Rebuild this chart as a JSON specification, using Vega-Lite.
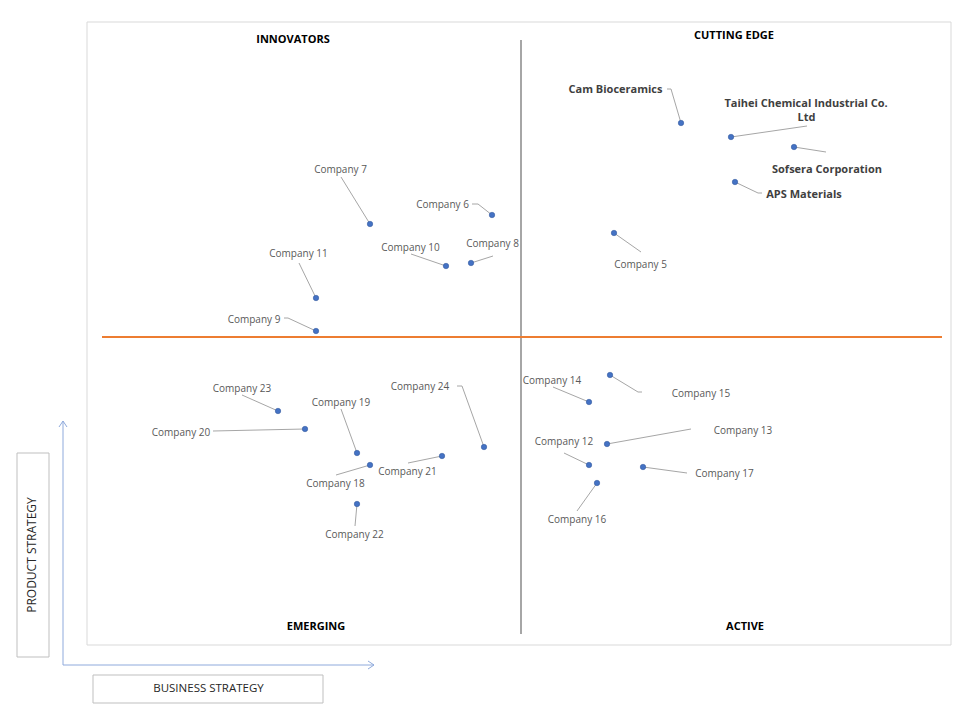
{
  "$schema": "https://vega.github.io/schema/vega-lite/v6.json",
  "width": 960,
  "height": 720,
  "autosize": {"type": "fit", "contains": "padding"},
  "padding": 0,
  "background": "white",
  "config": {"view": {"stroke": null}, "text": {"font": "Open Sans"}},
  "datasets": {
    "points": [
      {"company": "Cam Bioceramics", "business": 68.1, "product": 59.7},
      {"company": "Taihei Chemical Industrial Co. Ltd", "business": 73.1, "product": 58.3},
      {"company": "Sofsera Corporation", "business": 79.4, "product": 57.3},
      {"company": "APS Materials", "business": 73.5, "product": 53.8},
      {"company": "Company 5", "business": 61.4, "product": 48.7},
      {"company": "Company 6", "business": 49.2, "product": 50.5},
      {"company": "Company 7", "business": 37.0, "product": 49.6},
      {"company": "Company 8", "business": 47.1, "product": 45.7},
      {"company": "Company 9", "business": 31.6, "product": 38.9},
      {"company": "Company 10", "business": 44.6, "product": 45.4},
      {"company": "Company 11", "business": 31.6, "product": 42.2},
      {"company": "Company 12", "business": 58.9, "product": 25.5},
      {"company": "Company 13", "business": 60.7, "product": 27.6},
      {"company": "Company 14", "business": 58.9, "product": 31.8},
      {"company": "Company 15", "business": 61.0, "product": 34.5},
      {"company": "Company 16", "business": 59.7, "product": 23.7},
      {"company": "Company 17", "business": 64.3, "product": 25.3},
      {"company": "Company 18", "business": 37.0, "product": 25.5},
      {"company": "Company 19", "business": 35.7, "product": 26.7},
      {"company": "Company 20", "business": 30.5, "product": 29.1},
      {"company": "Company 21", "business": 44.2, "product": 26.4},
      {"company": "Company 22", "business": 35.7, "product": 21.6},
      {"company": "Company 23", "business": 27.8, "product": 30.9},
      {"company": "Company 24", "business": 48.4, "product": 27.3}
    ],
    "leaders": [
      {"x": 68.1, "y": 59.7, "x2": 67.1, "y2": 63.1},
      {"x": 67.1, "y": 63.1, "x2": 66.7, "y2": 63.1},
      {"x": 73.1, "y": 58.3, "x2": 80.7, "y2": 59.4},
      {"x": 79.4, "y": 57.3, "x2": 82.6, "y2": 56.8},
      {"x": 73.5, "y": 53.8, "x2": 75.8, "y2": 52.7},
      {"x": 75.8, "y": 52.7, "x2": 76.2, "y2": 52.7},
      {"x": 61.4, "y": 48.7, "x2": 64.1, "y2": 46.8},
      {"x": 49.2, "y": 50.5, "x2": 47.8, "y2": 51.6},
      {"x": 47.8, "y": 51.6, "x2": 47.2, "y2": 51.6},
      {"x": 37.0, "y": 49.6, "x2": 34.1, "y2": 54.3},
      {"x": 47.1, "y": 45.7, "x2": 49.3, "y2": 46.4},
      {"x": 31.6, "y": 38.9, "x2": 28.8, "y2": 40.2},
      {"x": 28.8, "y": 40.2, "x2": 28.4, "y2": 40.2},
      {"x": 44.6, "y": 45.4, "x2": 41.1, "y2": 46.6},
      {"x": 31.6, "y": 42.2, "x2": 29.9, "y2": 45.7},
      {"x": 58.9, "y": 25.5, "x2": 56.4, "y2": 26.7},
      {"x": 60.7, "y": 27.6, "x2": 69.1, "y2": 29.1},
      {"x": 58.9, "y": 31.8, "x2": 55.3, "y2": 33.3},
      {"x": 61.0, "y": 34.5, "x2": 63.8, "y2": 32.8},
      {"x": 63.8, "y": 32.8, "x2": 64.2, "y2": 32.8},
      {"x": 59.7, "y": 23.7, "x2": 57.7, "y2": 20.9},
      {"x": 64.3, "y": 25.3, "x2": 68.7, "y2": 24.7},
      {"x": 37.0, "y": 25.5, "x2": 33.6, "y2": 24.5},
      {"x": 35.7, "y": 26.7, "x2": 34.1, "y2": 31.1},
      {"x": 30.5, "y": 29.1, "x2": 21.3, "y2": 28.9},
      {"x": 44.2, "y": 26.4, "x2": 40.8, "y2": 25.7},
      {"x": 35.7, "y": 21.6, "x2": 35.5, "y2": 19.4},
      {"x": 27.8, "y": 30.9, "x2": 24.2, "y2": 32.5},
      {"x": 48.4, "y": 27.3, "x2": 46.2, "y2": 33.4},
      {"x": 46.2, "y": 33.4, "x2": 45.7, "y2": 33.4}
    ],
    "labels": [
      {"text": "Cam Bioceramics", "x": 61.55, "y": 63.1, "kind": "named"},
      {"text": "Taihei Chemical Industrial Co.", "x": 80.6, "y": 61.7, "kind": "named"},
      {"text": "Ltd", "x": 80.65, "y": 60.3, "kind": "named"},
      {"text": "Sofsera Corporation", "x": 82.7, "y": 55.1, "kind": "named"},
      {"text": "APS Materials", "x": 80.4, "y": 52.6, "kind": "named"},
      {"text": "Company 5", "x": 64.05, "y": 45.6, "kind": "company"},
      {"text": "Company 6", "x": 44.25, "y": 51.6, "kind": "company"},
      {"text": "Company 7", "x": 34.05, "y": 55.1, "kind": "company"},
      {"text": "Company 8", "x": 49.25, "y": 47.7, "kind": "company"},
      {"text": "Company 9", "x": 25.4, "y": 40.1, "kind": "company"},
      {"text": "Company 10", "x": 41.05, "y": 47.3, "kind": "company"},
      {"text": "Company 11", "x": 29.85, "y": 46.7, "kind": "company"},
      {"text": "Company 12", "x": 56.4, "y": 27.9, "kind": "company"},
      {"text": "Company 13", "x": 74.3, "y": 29.0, "kind": "company"},
      {"text": "Company 14", "x": 55.2, "y": 34.0, "kind": "company"},
      {"text": "Company 15", "x": 70.1, "y": 32.7, "kind": "company"},
      {"text": "Company 16", "x": 57.7, "y": 20.1, "kind": "company"},
      {"text": "Company 17", "x": 72.45, "y": 24.7, "kind": "company"},
      {"text": "Company 18", "x": 33.55, "y": 23.7, "kind": "company"},
      {"text": "Company 19", "x": 34.1, "y": 31.8, "kind": "company"},
      {"text": "Company 20", "x": 18.1, "y": 28.8, "kind": "company"},
      {"text": "Company 21", "x": 40.75, "y": 24.9, "kind": "company"},
      {"text": "Company 22", "x": 35.45, "y": 18.6, "kind": "company"},
      {"text": "Company 23", "x": 24.2, "y": 33.2, "kind": "company"},
      {"text": "Company 24", "x": 42.0, "y": 33.4, "kind": "company"},
      {"text": "INNOVATORS", "x": 29.3, "y": 68.1, "kind": "quadrant"},
      {"text": "CUTTING EDGE", "x": 73.4, "y": 68.5, "kind": "quadrant"},
      {"text": "EMERGING", "x": 31.6, "y": 9.4, "kind": "quadrant"},
      {"text": "ACTIVE", "x": 74.5, "y": 9.4, "kind": "quadrant"},
      {"text": "BUSINESS STRATEGY", "x": 20.85, "y": 3.2, "kind": "axis"},
      {"text": "PRODUCT STRATEGY", "x": 3.2, "y": 16.5, "kind": "axisv"}
    ],
    "boxes": [
      {"name": "frame", "x": 8.7, "x2": 95.1, "y": 69.8, "y2": 7.5},
      {"name": "product", "x": 1.7, "x2": 4.9, "y": 26.7, "y2": 6.3},
      {"name": "business", "x": 9.3, "x2": 32.3, "y": 4.5, "y2": 1.7}
    ],
    "lines": [
      {"kind": "vquad", "x": 52.1, "y": 68.0, "x2": 52.1, "y2": 8.6},
      {"kind": "hquad", "x": 10.2, "y": 38.3, "x2": 94.2, "y2": 38.3},
      {"kind": "arrow", "x": 6.3, "y": 5.5, "x2": 6.3, "y2": 29.9},
      {"kind": "arrow", "x": 6.3, "y": 5.5, "x2": 37.4, "y2": 5.5},
      {"kind": "arrow", "x": 5.9, "y": 29.3, "x2": 6.3, "y2": 29.9},
      {"kind": "arrow", "x": 6.7, "y": 29.3, "x2": 6.3, "y2": 29.9},
      {"kind": "arrow", "x": 36.8, "y": 5.9, "x2": 37.4, "y2": 5.5},
      {"kind": "arrow", "x": 36.8, "y": 5.1, "x2": 37.4, "y2": 5.5}
    ]
  },
  "resolve": {"scale": {"x": "shared", "y": "shared"}},
  "layer": [
    {
      "data": {"name": "boxes"},
      "transform": [{"filter": "datum.name === 'frame'"}],
      "mark": {"type": "rect", "fill": null, "stroke": "#d9d9d9", "strokeWidth": 1},
      "encoding": {
        "x": {"field": "x", "type": "quantitative", "scale": {"domain": [0, 96], "nice": false, "zero": false}, "axis": null},
        "x2": {"field": "x2"},
        "y": {"field": "y", "type": "quantitative", "scale": {"domain": [0, 72], "nice": false, "zero": false}, "axis": null},
        "y2": {"field": "y2"}
      }
    },
    {
      "data": {"name": "boxes"},
      "transform": [{"filter": "datum.name !== 'frame'"}],
      "mark": {"type": "rect", "fill": null, "stroke": "#bfbfbf", "strokeWidth": 1},
      "encoding": {
        "x": {"field": "x", "type": "quantitative"},
        "x2": {"field": "x2"},
        "y": {"field": "y", "type": "quantitative"},
        "y2": {"field": "y2"}
      }
    },
    {
      "data": {"name": "lines"},
      "transform": [{"filter": "datum.kind === 'vquad'"}],
      "mark": {"type": "rule", "color": "#a6a6a6", "strokeWidth": 2},
      "encoding": {
        "x": {"field": "x", "type": "quantitative"},
        "x2": {"field": "x2"},
        "y": {"field": "y", "type": "quantitative"},
        "y2": {"field": "y2"}
      }
    },
    {
      "data": {"name": "lines"},
      "transform": [{"filter": "datum.kind === 'hquad'"}],
      "mark": {"type": "rule", "color": "#ed7d31", "strokeWidth": 2},
      "encoding": {
        "x": {"field": "x", "type": "quantitative"},
        "x2": {"field": "x2"},
        "y": {"field": "y", "type": "quantitative"},
        "y2": {"field": "y2"}
      }
    },
    {
      "data": {"name": "lines"},
      "transform": [{"filter": "datum.kind === 'arrow'"}],
      "mark": {"type": "rule", "color": "#8faadc", "strokeWidth": 1},
      "encoding": {
        "x": {"field": "x", "type": "quantitative"},
        "x2": {"field": "x2"},
        "y": {"field": "y", "type": "quantitative"},
        "y2": {"field": "y2"}
      }
    },
    {
      "data": {"name": "leaders"},
      "mark": {"type": "rule", "color": "#a6a6a6", "strokeWidth": 1},
      "encoding": {
        "x": {"field": "x", "type": "quantitative"},
        "x2": {"field": "x2"},
        "y": {"field": "y", "type": "quantitative"},
        "y2": {"field": "y2"}
      }
    },
    {
      "data": {"name": "points"},
      "mark": {"type": "point", "filled": true, "shape": "circle", "size": 30, "color": "#4472c4", "opacity": 1, "stroke": "#2f5597", "strokeWidth": 0.5},
      "encoding": {
        "x": {"field": "business", "type": "quantitative"},
        "y": {"field": "product", "type": "quantitative"}
      }
    },
    {
      "data": {"name": "labels"},
      "transform": [{"filter": "datum.kind === 'company'"}],
      "mark": {"type": "text", "fontSize": 10, "color": "#595959", "align": "center", "baseline": "middle", "dy": 1},
      "encoding": {
        "x": {"field": "x", "type": "quantitative"},
        "y": {"field": "y", "type": "quantitative"},
        "text": {"field": "text"}
      }
    },
    {
      "data": {"name": "labels"},
      "transform": [{"filter": "datum.kind === 'named'"}],
      "mark": {"type": "text", "fontSize": 11, "fontWeight": "bold", "color": "#404040", "align": "center", "baseline": "middle", "dy": 1},
      "encoding": {
        "x": {"field": "x", "type": "quantitative"},
        "y": {"field": "y", "type": "quantitative"},
        "text": {"field": "text"}
      }
    },
    {
      "data": {"name": "labels"},
      "transform": [{"filter": "datum.kind === 'quadrant'"}],
      "mark": {"type": "text", "fontSize": 11, "fontWeight": "bold", "color": "#000000", "align": "center", "baseline": "middle", "dy": 1},
      "encoding": {
        "x": {"field": "x", "type": "quantitative"},
        "y": {"field": "y", "type": "quantitative"},
        "text": {"field": "text"}
      }
    },
    {
      "data": {"name": "labels"},
      "transform": [{"filter": "datum.kind === 'axis'"}],
      "mark": {"type": "text", "fontSize": 11.5, "color": "#262626", "align": "center", "baseline": "middle", "dy": 1},
      "encoding": {
        "x": {"field": "x", "type": "quantitative"},
        "y": {"field": "y", "type": "quantitative"},
        "text": {"field": "text"}
      }
    },
    {
      "data": {"name": "labels"},
      "transform": [{"filter": "datum.kind === 'axisv'"}],
      "mark": {"type": "text", "fontSize": 12, "color": "#262626", "align": "center", "baseline": "middle", "angle": 270},
      "encoding": {
        "x": {"field": "x", "type": "quantitative"},
        "y": {"field": "y", "type": "quantitative"},
        "text": {"field": "text"}
      }
    }
  ]
}
